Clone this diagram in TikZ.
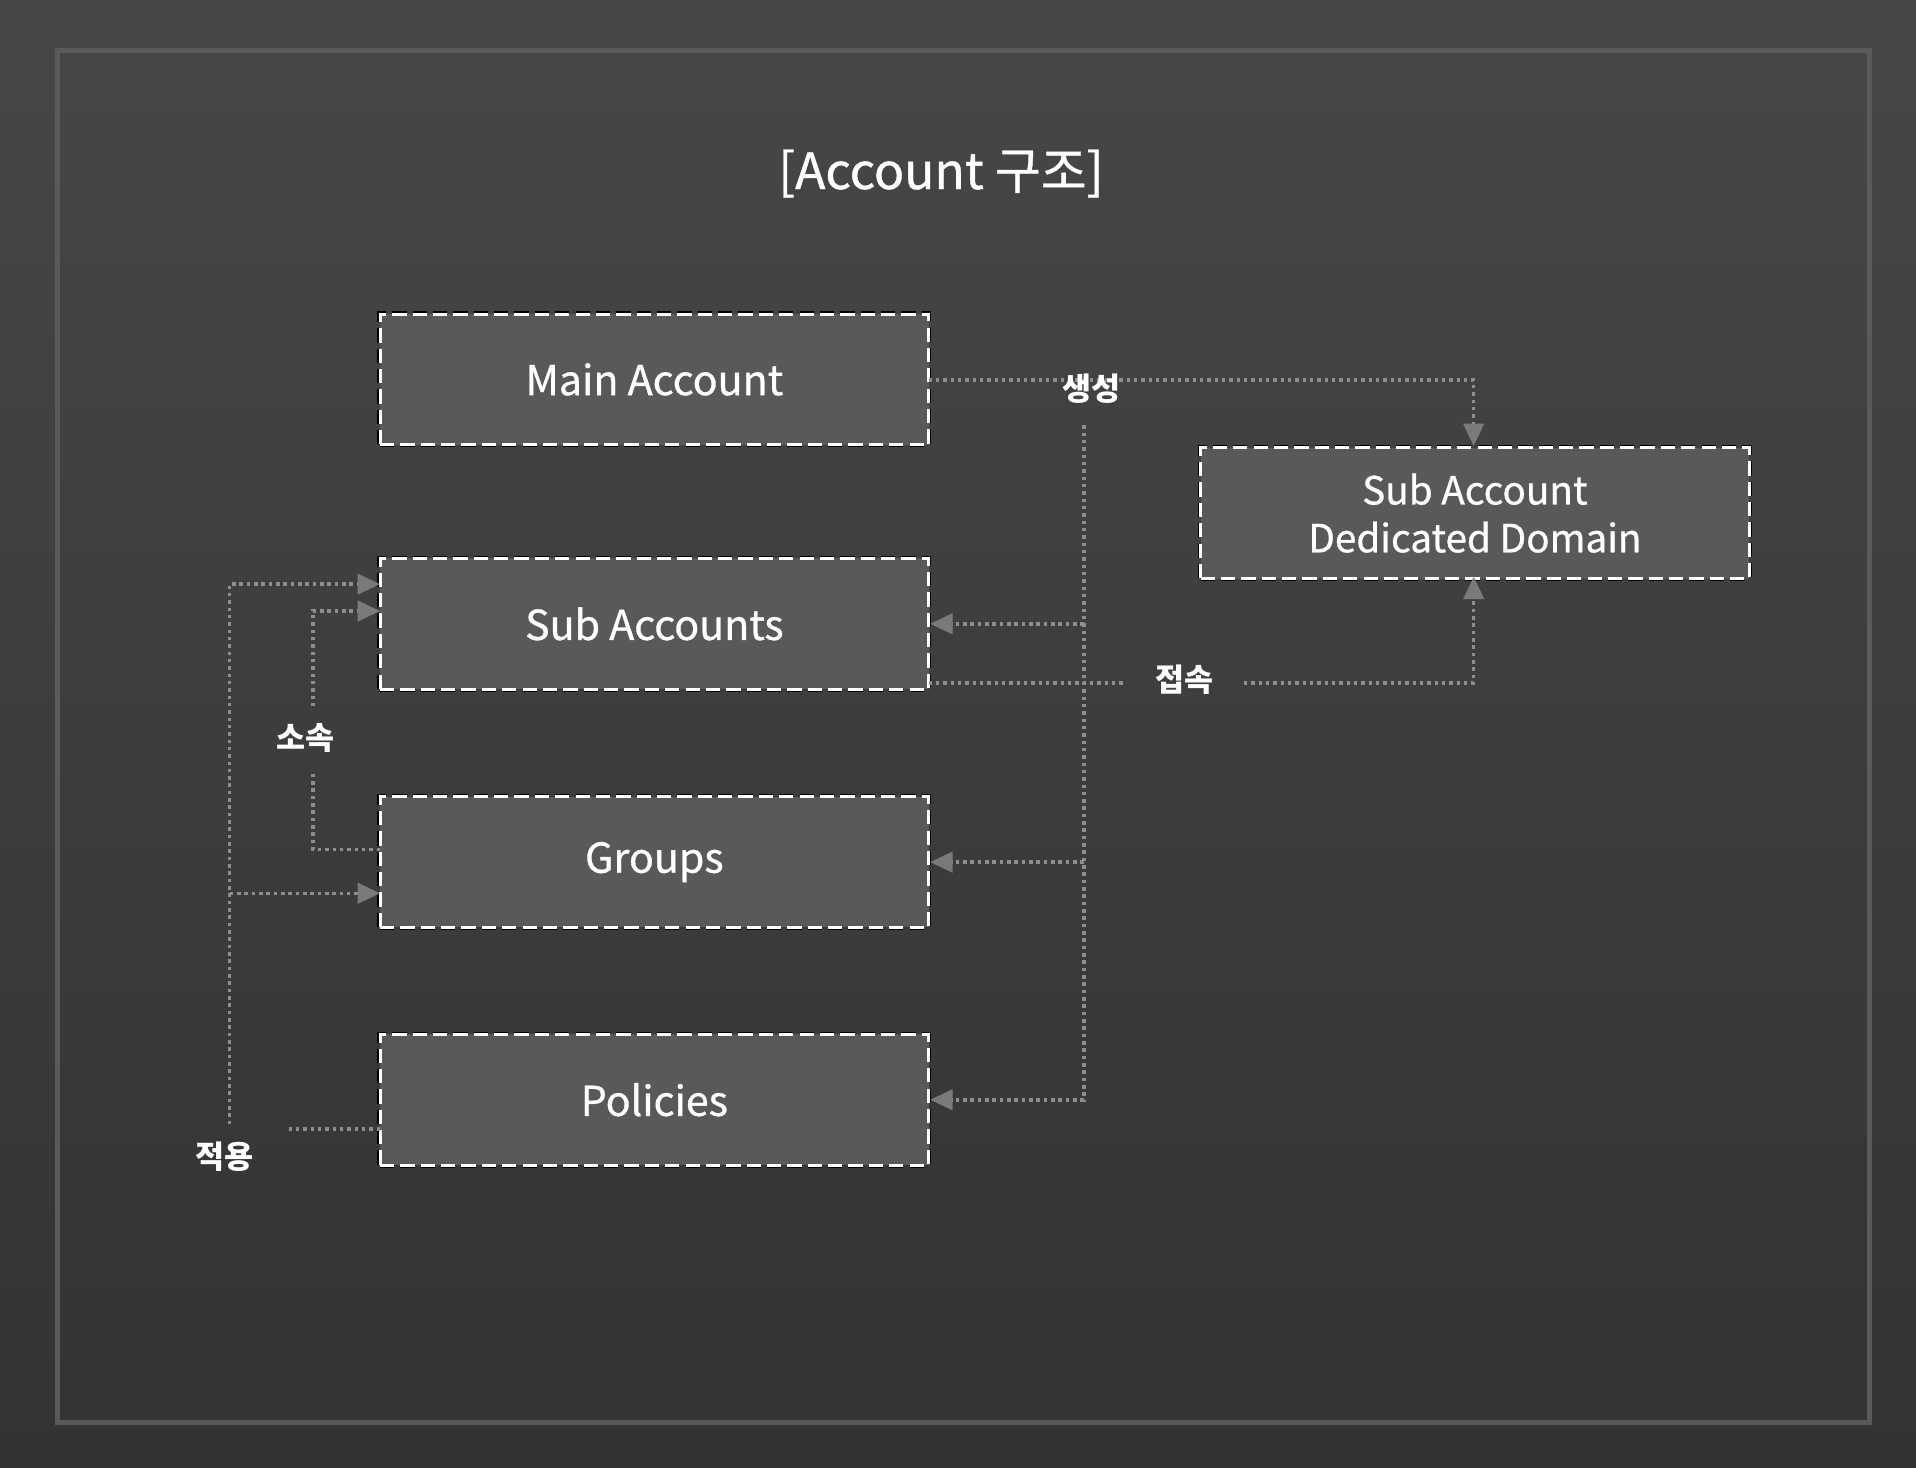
\documentclass[tikz,border=0pt]{standalone}
\usepackage{fontspec}
\setmainfont{Noto Sans CJK KR}
\newfontfamily\medfont{Noto Sans CJK KR}[FakeBold=0.8]
\usetikzlibrary{arrows.meta}
\definecolor{bgtop}{HTML}{474747}
\definecolor{bgbot}{HTML}{333333}
\definecolor{framec}{HTML}{5A5A5A}
\definecolor{boxfill}{HTML}{595959}
\definecolor{linec}{HTML}{8E8E8E}
\definecolor{tipc}{HTML}{7A7A7A}
\tikzset{
  dbox/.style={minimum width=449*0.6pt, minimum height=107*0.6pt, fill=boxfill,
    draw=white, line width=1.5pt, dash pattern=on 7pt off 3pt,
    preaction={draw=black, line width=2.6pt, dash pattern=on 7pt off 3pt},
    text=white, font=\medfont\fontsize{20.2}{23.5}\selectfont, align=center, inner sep=0pt},
  conn/.style={draw=linec, line width=1.7pt, dash pattern=on 1.7pt off 1.9pt},
  tip/.style={conn, -{Triangle[length=11pt,width=10pt,fill=tipc,color=tipc]}},
  klabel/.style={text=white, font=\bfseries\fontsize{15.5}{17}\selectfont, inner sep=0pt},
  ttl/.style={text=white, font=\medfont\fontsize{24.5}{28}\selectfont, inner sep=0pt}
}
\begin{document}
\begin{tikzpicture}[x=0.6pt,y=-0.6pt]
\useasboundingbox (0,0) rectangle (1568,1201);
\shade[top color=bgtop, bottom color=bgbot] (0,0) rectangle (1568,1201);
\draw[framec, line width=2.4pt] (47,41) rectangle (1530,1164);
\node[ttl] (title) at (770,142) {[Account 구조]};
% boxes
\node[dbox] (main) at (535.5,310.5) {Main Account};
\node[dbox] (sub) at (535.5,510.5) {Sub Accounts};
\node[dbox] (grp) at (535.5,705.5) {Groups};
\node[dbox] (pol) at (535.5,900) {Policies};
\node[dbox, font=\medfont\fontsize{19}{23.5}\selectfont] (dd) at (1207,420) {Sub Account\\Dedicated Domain};
% coordinates
\coordinate (mainout) at (760,311);
\coordinate (ddtop) at (1206,365);
\coordinate (ddbot) at (1206,472);
\coordinate (vtop) at (887,348);
\coordinate (subout) at (760,559);
\coordinate (jgap1) at (920,559);
\coordinate (jgap2) at (1018,559);
\coordinate (sgrp) at (311,695);
\coordinate (sgap1) at (256,633);
\coordinate (sgap2) at (256,578);
\coordinate (ssub) at (311,500);
\coordinate (apol) at (311,924);
\coordinate (agap) at (233,924);
\coordinate (avbot) at (188,920);
\coordinate (asub) at (311,478);
\coordinate (agrp) at (311,731);
% 생성
\draw[tip] (mainout) -| (ddtop);
\draw[tip] (vtop) |- (pol.east);
\draw[tip] (vtop |- sub.east) -- (sub.east);
\draw[tip] (vtop |- grp.east) -- (grp.east);
\node[klabel] (lbl1) at (893,318) {생성};
% 접속
\draw[conn] (subout) -- (jgap1);
\draw[tip] (jgap2) -| (ddbot);
\node[klabel] (lbl2) at (969,556) {접속};
% 소속
\draw[conn] (sgrp) -| (sgap1);
\draw[tip] (sgap2) |- (ssub);
\node[klabel] (lbl3) at (250,604) {소속};
% 적용
\draw[conn] (apol) -- (agap);
\draw[tip] (avbot) |- (asub);
\draw[tip] (avbot |- agrp) -- (agrp);
\node[klabel] (lbl4) at (184,947) {적용};
\end{tikzpicture}
\end{document}
